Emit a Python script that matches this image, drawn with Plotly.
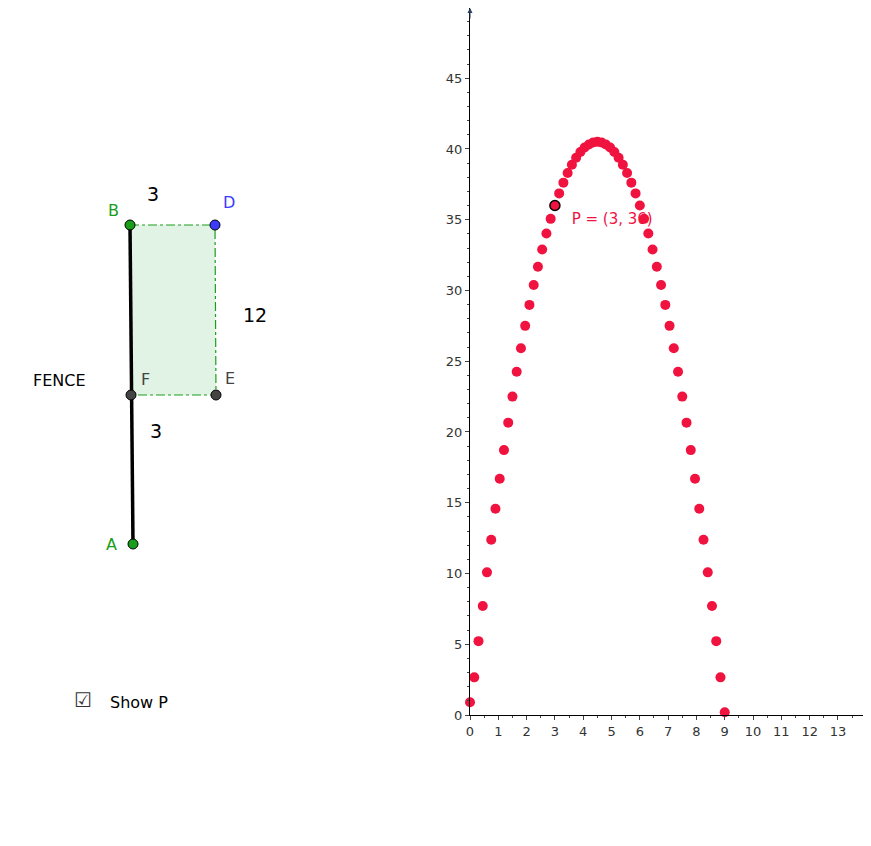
import plotly.graph_objects as go

# locus of P: width x vs area
xs = [0, 0.15, 0.3, 0.45, 0.6, 0.75, 0.9, 1.05, 1.2, 1.35, 1.5, 1.65, 1.8, 1.95, 2.1, 2.25, 2.4, 2.55, 2.7, 2.85,
      3.0, 3.15, 3.3, 3.45, 3.6, 3.75, 3.9, 4.05, 4.2, 4.35, 4.5, 4.65, 4.8, 4.95, 5.1, 5.25, 5.4, 5.55, 5.7, 5.85,
      6.0, 6.15, 6.3, 6.45, 6.6, 6.75, 6.9, 7.05, 7.2, 7.35, 7.5, 7.65, 7.8, 7.95, 8.1, 8.25, 8.4, 8.55, 8.7, 8.85, 9.0]
ys = [0.9, 2.66, 5.22, 7.7, 10.08, 12.38, 14.58, 16.7, 18.72, 20.66, 22.5, 24.26, 25.92, 27.5, 28.98, 30.38, 31.68, 32.9, 34.02, 35.06,
      36.0, 36.86, 37.62, 38.3, 38.88, 39.38, 39.78, 40.1, 40.32, 40.46, 40.5, 40.46, 40.32, 40.1, 39.78, 39.38, 38.88, 38.3, 37.62, 36.86,
      36.0, 35.06, 34.02, 32.9, 31.68, 30.38, 28.98, 27.5, 25.92, 24.26, 22.5, 20.66, 18.72, 16.7, 14.58, 12.38, 10.08, 7.7, 5.22, 2.66, 0.2]
p_point = (3, 36)

# fence sketch (screen coordinates of the left panel)
pts = {"A": (125, 536), "B": (122, 217), "D": (207, 217), "E": (208, 387), "F": (123, 387)}
pt_colors = {"A": "#1a9e1a", "B": "#1a9e1a", "D": "#3b3bff", "E": "#444444", "F": "#444444"}

fig = go.Figure()

fig.add_trace(go.Scatter(x=xs, y=ys, mode="markers", cliponaxis=False,
                         marker=dict(size=10, color="#f0123f"), hoverinfo="skip"))
fig.add_trace(go.Scatter(x=[p_point[0]], y=[p_point[1]], mode="markers+text", cliponaxis=False,
                         text=["  P = (3, 36)"], textposition="bottom right",
                         textfont=dict(color="#f0123f", size=15, family="DejaVu Sans"),
                         marker=dict(size=10, color="#f0123f", line=dict(color="black", width=1.5))))

# rectangle BDEF
rx = [pts[k][0] for k in ["F", "B", "D", "E", "F"]]
ry = [pts[k][1] for k in ["F", "B", "D", "E", "F"]]
fig.add_trace(go.Scatter(x=rx, y=ry, mode="lines", fill="toself", fillcolor="rgba(180,225,190,0.4)",
                         line=dict(width=0), xaxis="x2", yaxis="y2"))
dx = [pts[k][0] for k in ["B", "D", "E", "F"]]
dy = [pts[k][1] for k in ["B", "D", "E", "F"]]
fig.add_trace(go.Scatter(x=dx, y=dy, mode="lines", line=dict(color="#1a9e1a", width=1.2, dash="dashdot"),
                         xaxis="x2", yaxis="y2"))
fig.add_trace(go.Scatter(x=[pts["A"][0], pts["B"][0]], y=[pts["A"][1], pts["B"][1]], mode="lines",
                         line=dict(color="black", width=3.5), xaxis="x2", yaxis="y2"))
fig.add_trace(go.Scatter(x=[v[0] for v in pts.values()], y=[v[1] for v in pts.values()], mode="markers",
                         marker=dict(size=10, color=[pt_colors[k] for k in pts], line=dict(color="black", width=1)),
                         xaxis="x2", yaxis="y2"))

labels = [("B", 105, 202, "#1a9e1a"), ("3", 145, 186, "black"), ("D", 221, 194, "#3b3bff"),
          ("12", 247, 307, "black"), ("FENCE", 51, 372, "black"), ("F", 137, 371, "#444444"),
          ("E", 222, 370, "#444444"), ("3", 148, 423, "black"), ("A", 103, 536, "#1a9e1a"),
          ("Show P", 131, 694, "black")]
for t, x, y, c in labels:
    size = 19 if t in ("3", "12") else 16
    fig.add_annotation(x=x, y=y, xref="x2", yref="y2", text=t, showarrow=False,
                       font=dict(color=c, size=size, family="DejaVu Sans"))
fig.add_annotation(x=75, y=692, xref="x2", yref="y2", text="☑", showarrow=False,
                   font=dict(color="#333", size=20, family="DejaVu Sans"))

# axis arrows
fig.add_annotation(x=462, y=0, ax=462, ay=12, xref="x2", yref="y2", axref="x2", ayref="y2",
                   showarrow=True, arrowhead=2, arrowwidth=1, text="")
fig.add_annotation(x=871, y=707, ax=858, ay=707, xref="x2", yref="y2", axref="x2", ayref="y2",
                   showarrow=True, arrowhead=2, arrowwidth=1, text="")

fig.update_layout(
    width=871, height=846, margin=dict(l=0, r=0, t=0, b=0, autoexpand=False),
    paper_bgcolor="white", plot_bgcolor="rgba(0,0,0,0)", showlegend=False,
    xaxis=dict(domain=[462 / 871, 1], range=[0, 14.45], showgrid=False, zeroline=False, automargin=False,
               showline=True, linecolor="black", linewidth=1, ticks="outside", ticklen=4,
               tickvals=list(range(0, 14)), tickfont=dict(size=13, family="DejaVu Sans", color="#333"),
               minor=dict(ticks="outside", ticklen=2, dtick=0.5)),
    yaxis=dict(domain=[139 / 846, 1], range=[0, 49.96], showgrid=False, zeroline=False, automargin=False,
               showline=True, linecolor="black", linewidth=1, ticks="outside", ticklen=4,
               tickvals=list(range(0, 50, 5)), tickfont=dict(size=13, family="DejaVu Sans", color="#333"),
               minor=dict(ticks="outside", ticklen=2, dtick=1)),
    xaxis2=dict(domain=[0, 1], range=[0, 871], visible=False, anchor="y2", automargin=False),
    yaxis2=dict(domain=[0, 1], range=[846, 0], visible=False, anchor="x2", automargin=False),
)

fig.write_html("out.html")
